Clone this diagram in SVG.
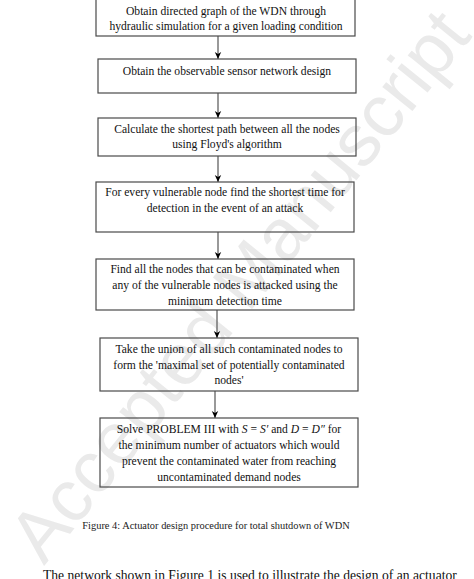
<svg xmlns="http://www.w3.org/2000/svg" width="474" height="579" viewBox="0 0 474 579">
<defs>
<style>
.box{fill:none;stroke:#4a4a4a;stroke-width:1.2}
.t{font-family:"Liberation Serif","Times New Roman",serif;font-size:11.6px;fill:#111;text-anchor:middle}
.cap{font-family:"Liberation Serif","Times New Roman",serif;font-size:10.4px;fill:#222;text-anchor:middle}
.body{font-family:"Liberation Serif","Times New Roman",serif;font-size:13.6px;fill:#111}
.wm{font-family:"Liberation Sans",Arial,sans-serif;font-size:73px;fill:#eaeaea}
.ln{stroke:#555;stroke-width:1.2;fill:none}
.m{font-style:italic}
</style>
<marker id="ah" markerWidth="8" markerHeight="8" refX="7" refY="4" orient="auto" markerUnits="userSpaceOnUse">
<path d="M0,0.8 L7,4 L0,7.2 L2,4 Z" fill="#000"/>
</marker>
</defs>
<rect width="474" height="579" fill="#fff"/>
<text class="wm" transform="translate(44,566) rotate(-51)">Accepted Manuscript</text>
<g id="connectors">
<line class="ln" x1="218" y1="36" x2="218" y2="59" marker-end="url(#ah)"/>
<line class="ln" x1="218" y1="93" x2="218" y2="118" marker-end="url(#ah)"/>
<line class="ln" x1="218" y1="156" x2="218" y2="182" marker-end="url(#ah)"/>
<line class="ln" x1="218" y1="232" x2="218" y2="259" marker-end="url(#ah)"/>
<line class="ln" x1="217" y1="310" x2="217" y2="338" marker-end="url(#ah)"/>
<line class="ln" x1="215" y1="391" x2="215" y2="418" marker-end="url(#ah)"/>
</g>
<g id="n1">
<rect class="box" x="96" y="-2" width="259" height="38"/>
<text class="t" x="226" y="15">Obtain directed graph of the WDN through</text>
<text class="t" x="226" y="30">hydraulic simulation for a given loading condition</text>
</g>
<g id="n2">
<rect class="box" x="98" y="59" width="258" height="34"/>
<text class="t" x="227" y="75">Obtain the observable sensor network design</text>
</g>
<g id="n3">
<rect class="box" x="98" y="118" width="258" height="38"/>
<text class="t" x="227" y="133">Calculate the shortest path between all the nodes</text>
<text class="t" x="227" y="148">using Floyd's algorithm</text>
</g>
<g id="n4">
<rect class="box" x="96" y="182" width="258" height="50"/>
<text class="t" x="225" y="196">For every vulnerable node find the shortest time for</text>
<text class="t" x="225" y="212">detection in the event of an attack</text>
</g>
<g id="n5">
<rect class="box" x="96" y="259" width="258" height="51"/>
<text class="t" x="225" y="273">Find all the nodes that can be contaminated when</text>
<text class="t" x="225" y="289">any of the vulnerable nodes is attacked using the</text>
<text class="t" x="225" y="305">minimum detection time</text>
</g>
<g id="n6">
<rect class="box" x="100" y="338" width="258" height="53"/>
<text class="t" x="229" y="353">Take the union of all such contaminated nodes to</text>
<text class="t" x="229" y="369">form the 'maximal set of potentially contaminated</text>
<text class="t" x="229" y="384">nodes'</text>
</g>
<g id="n7">
<rect class="box" x="100" y="418" width="258" height="69"/>
<text class="t" x="229" y="433">Solve PROBLEM III with <tspan class="m">S</tspan> = <tspan class="m">S′</tspan> and <tspan class="m">D</tspan> = <tspan class="m">D″</tspan> for</text>
<text class="t" x="229" y="449">the minimum number of actuators which would</text>
<text class="t" x="229" y="465">prevent the contaminated water from reaching</text>
<text class="t" x="229" y="481">uncontaminated demand nodes</text>
</g>
<text class="cap" x="216" y="529">Figure 4: Actuator design procedure for total shutdown of WDN</text>
<text class="body" x="43" y="580">The network shown in Figure 1 is used to illustrate the design of an actuator</text>
</svg>
